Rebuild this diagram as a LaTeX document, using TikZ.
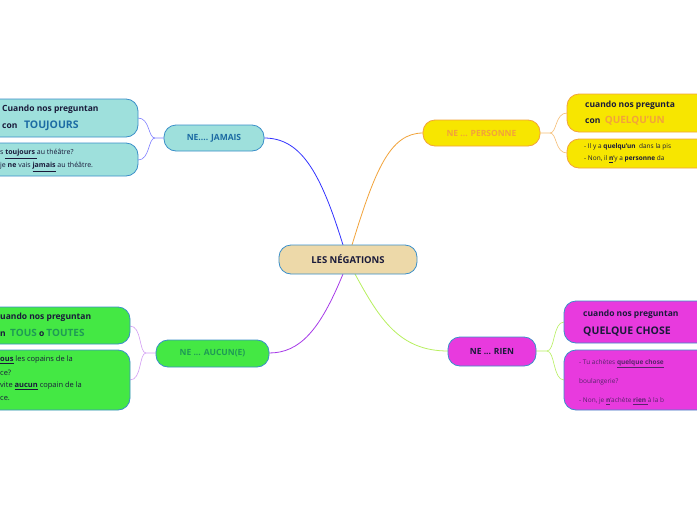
\documentclass[tikz,border=0pt]{standalone}
\usepackage{fontspec}
\setmainfont{Open Sans}
\begin{document}
\begin{tikzpicture}[x=1pt,y=-1pt,
  bx/.style={rounded corners=12pt,line width=0.8pt},
  lbl/.style={inner sep=0pt,anchor=west,font=\fontsize{8}{10}\selectfont},
  ttl/.style={inner sep=0pt,font=\bfseries\fontsize{8.5}{10}\selectfont}]
\definecolor{tealf}{HTML}{9EE0DC}\definecolor{bord}{HTML}{3A8FC9}
\definecolor{tealt}{HTML}{1C6BA3}\definecolor{yel}{HTML}{F7E600}
\definecolor{ora}{HTML}{F2A33A}\definecolor{grn}{HTML}{44E844}
\definecolor{grnt}{HTML}{1F9A55}\definecolor{mag}{HTML}{E83ADE}
\definecolor{tan}{HTML}{EDD9A9}\definecolor{dk}{HTML}{1A1A3A}
\definecolor{ylt}{HTML}{B8F060}\definecolor{pur}{HTML}{A63AE8}
\clip (0,0) rectangle (697,520);
\fill[white] (0,0) rectangle (697,520);
% connectors
\coordinate (c1) at (343,245); \coordinate (c2) at (352,245);
\coordinate (c3) at (343,274); \coordinate (c4) at (355,274);
\draw[blue!80,line width=0.8pt] (c1) .. controls (320,170) and (300,138) .. (264,138);
\draw[ora,line width=0.8pt] (c2) .. controls (375,170) and (390,133) .. (423,133);
\draw[pur,line width=0.8pt] (c3) .. controls (320,330) and (300,353) .. (269,353);
\draw[ylt,line width=0.8pt] (c4) .. controls (380,320) and (400,351) .. (448,351);
% sub connectors
\draw[blue!50,line width=0.6pt] (164,138) -- (155,138) .. controls (148,138) and (150,118) .. (138,118);
\draw[blue!50,line width=0.6pt] (155,138) .. controls (148,138) and (150,160) .. (138,160);
\draw[ora!70,line width=0.6pt] (540,133) -- (550,133) .. controls (557,133) and (555,113) .. (567,113);
\draw[ora!70,line width=0.6pt] (550,133) .. controls (557,133) and (555,153) .. (567,153);
\draw[pur!50,line width=0.6pt] (156,353) -- (146,353) .. controls (139,353) and (142,326) .. (130,326);
\draw[pur!50,line width=0.6pt] (146,353) .. controls (139,353) and (142,380) .. (130,380);
\draw[ylt,line width=0.6pt] (536,351) -- (547,351) .. controls (555,351) and (553,322) .. (564,322);
\draw[ylt,line width=0.6pt] (547,351) .. controls (555,351) and (553,380) .. (564,380);
% center
\draw[bx,fill=tan,draw=bord] (279,245) rectangle (417,274);
\node[ttl,text=dk,font=\bfseries\fontsize{9.5}{11}\selectfont] (center) at (348,259.5) {LES NÉGATIONS};
% JAMAIS
\draw[bx,fill=tealf,draw=bord] (164,125) rectangle (264,151);
\node[ttl,text=tealt] (jam) at (214,138) {NE.... JAMAIS};
\draw[bx,fill=tealf,draw=bord] (-20,99) rectangle (138,137);
\node[lbl,font=\bfseries\fontsize{8.5}{10}\selectfont,text=dk] (j1) at (2,109) {Cuando nos preguntan};
\node[lbl,font=\bfseries\fontsize{8.5}{10}\selectfont,text=dk] (j2) at (2,126) {con \ \ \textcolor{tealt}{\fontsize{10.5}{12}\selectfont TOUJOURS}};
\draw[bx,fill=tealf,draw=bord] (-20,143) rectangle (138,176);
\node[lbl,font=\fontsize{7}{9}\selectfont,text=dk] (j3) at (0,154) {s \textbf{\underline{toujours }}au théâtre?};
\node[lbl,font=\fontsize{7}{9}\selectfont,text=dk] (j4) at (0,167) {je \textbf{ne} vais \textbf{\underline{jamais}} au théâtre.};
% PERSONNE
\draw[bx,fill=yel,draw=ora] (423,120) rectangle (540,146);
\node[ttl,text=ora] (per) at (481.5,133) {NE ... PERSONNE};
\draw[bx,fill=yel,draw=ora] (567,94) rectangle (720,132);
\node[lbl,font=\bfseries\fontsize{8.5}{10}\selectfont,text=dk] (p1) at (585,105) {cuando nos pregunta};
\node[lbl,font=\bfseries\fontsize{8.5}{10}\selectfont,text=dk] (p2) at (585,121) {con \ \textcolor{ora}{\fontsize{10}{12}\selectfont QUELQU'UN}};
\draw[bx,fill=yel,draw=ora] (567,139) rectangle (720,168);
\node[lbl,font=\fontsize{6.5}{8}\selectfont,text=dk] (p3) at (584,147) {- Il y a \textbf{quelqu'un} \ dans la pis};
\node[lbl,font=\fontsize{6.5}{8}\selectfont,text=dk] (p4) at (584,159) {- Non, il \textbf{\underline{n}}'y a \textbf{personne} da};
% AUCUN
\draw[bx,fill=grn,draw=bord] (156,340) rectangle (269,367);
\node[ttl,text=grnt] (auc) at (212.5,353.5) {NE ... AUCUN(E)};
\draw[bx,fill=grn,draw=bord] (-20,307) rectangle (130,344);
\node[lbl,font=\bfseries\fontsize{8.5}{10}\selectfont,text=dk] (a1) at (0,317) {uando nos preguntan};
\node[lbl,font=\bfseries\fontsize{8.5}{10}\selectfont,text=dk] (a2) at (0,333) {n \ \textcolor{grnt}{\fontsize{10}{12}\selectfont TOUS} o \textcolor{grnt}{\fontsize{10}{12}\selectfont TOUTES}};
\draw[bx,fill=grn,draw=bord] (-20,350) rectangle (130,410);
\node[lbl,font=\fontsize{7.5}{9}\selectfont,text=dk] (a3) at (0,360) {\textbf{\underline{ous}} les copains de la};
\node[lbl,font=\fontsize{7.5}{9}\selectfont,text=dk] (a4) at (0,373) {ce?};
\node[lbl,font=\fontsize{7.5}{9}\selectfont,text=dk] (a5) at (0,386) {vite \textbf{\underline{aucun}} copain de la};
\node[lbl,font=\fontsize{7.5}{9}\selectfont,text=dk] (a6) at (0,399) {ce.};
% RIEN
\draw[bx,fill=mag,draw=bord] (448,337) rectangle (536,366);
\node[ttl,text=dk] (rien) at (492,352) {NE ... RIEN};
\draw[bx,fill=mag,draw=bord] (564,301) rectangle (720,343);
\node[lbl,font=\bfseries\fontsize{8.5}{10}\selectfont,text=dk] (r1) at (583,314) {cuando nos preguntan};
\node[lbl,font=\bfseries\fontsize{10.5}{12}\selectfont,text=dk] (r2) at (583,332) {QUELQUE CHOSE};
\draw[bx,fill=mag,draw=bord] (564,350) rectangle (720,410);
\node[lbl,font=\fontsize{6.5}{8}\selectfont,text=dk!70!mag] (r3) at (579,364) {- Tu achètes \textbf{\underline{quelque chose}}};
\node[lbl,font=\fontsize{6.5}{8}\selectfont,text=dk!70!mag] (r4) at (579,382) {boulangerie?};
\node[lbl,font=\fontsize{6.5}{8}\selectfont,text=dk!70!mag] (r5) at (579,401) {- Non, je \textbf{\underline{n}}'achète \textbf{\underline{rien }}à la b};
\end{tikzpicture}
\end{document}
